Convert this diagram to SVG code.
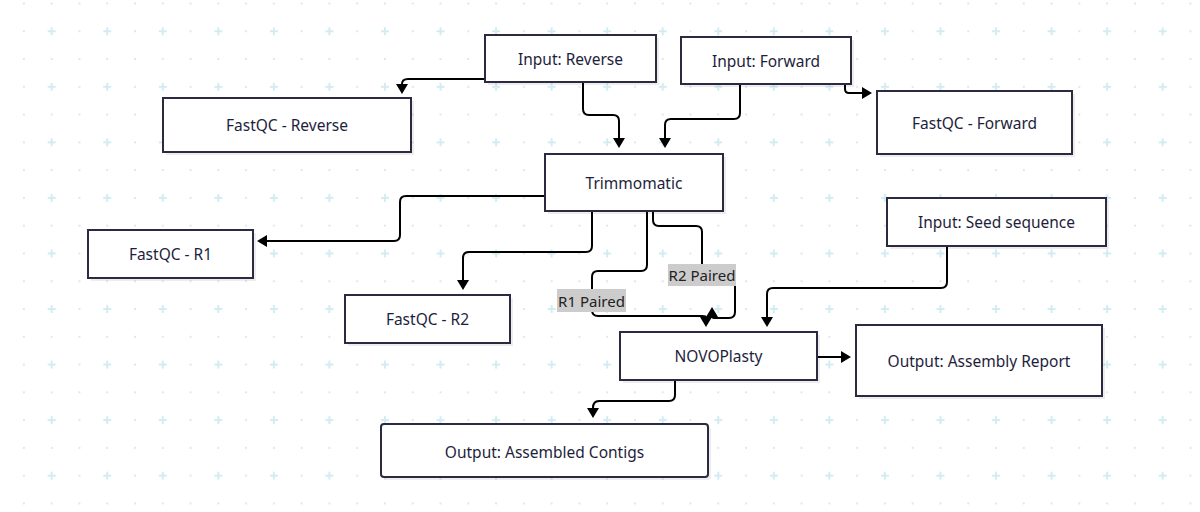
<svg xmlns="http://www.w3.org/2000/svg" width="1200" height="512" viewBox="0 0 1200 512">
<defs>
<pattern id="grid" patternUnits="userSpaceOnUse" x="10" y="-10.4" width="55.55" height="55.55">
<rect x="12.9" y="12.9" width="2" height="2" fill="#d3ecf2"/>
<rect x="40.7" y="12.9" width="2" height="2" fill="#d3ecf2"/>
<rect x="12.9" y="40.7" width="2" height="2" fill="#d3ecf2"/>
<path d="M37.7,41.7 H45.7 M41.7,37.7 V45.7" stroke="#d3ecf2" stroke-width="2"/>
</pattern>
<marker id="arr" markerUnits="userSpaceOnUse" viewBox="0 0 10 12" refX="0" refY="6" markerWidth="10" markerHeight="12" orient="auto">
<path d="M0,0 L10,6 L0,12 z" fill="#000"/>
</marker>
<style>
.box{fill:#fff;stroke:#2b2a40;stroke-width:2}
.sh{fill:#000;fill-opacity:0.07}
.t{font-family:"Noto Sans","Open Sans",sans-serif;font-size:15.5px;fill:#1e1e3c;text-anchor:middle;dominant-baseline:central}
.e{fill:none;stroke:#000;stroke-width:2;marker-end:url(#arr)}
.lb{fill:#cccccc}
.lt{font-family:"Noto Sans","Open Sans",sans-serif;font-size:15px;fill:#222;text-anchor:middle;dominant-baseline:central}
</style>
</defs>
<rect width="1200" height="512" fill="#fff"/>
<rect width="1200" height="512" fill="url(#grid)"/>

<g id="connectors">
<path class="e" d="M485,79 H408 Q402,79 402,84"/>
<path class="e" d="M583,82 V109 Q583,115 589,115 H613 Q619,115 619,121 V138"/>
<path class="e" d="M740,84 V113 Q740,119 734,119 H671 Q665,119 665,125 V138"/>
<path class="e" d="M845,84 V89 Q845,93 849,93 H862"/>
<path class="e" d="M545,196 H406 Q400,196 400,202 V235 Q400,241 394,241 H267"/>
<path class="e" d="M592,211 V246 Q592,252 586,252 H469 Q463,252 463,258 V280"/>
<path class="e" d="M647,211 V265 Q647,271 641,271 H598 Q592,271 592,277 V310 Q592,316 598,316 H702 Q706,316 706,317"/>
<path class="e" d="M653,211 V220 Q653,226 659,226 H696 Q702,226 702,232 V275 H735 V312 Q735,318 729,318 H716 Q712,318 712,317"/>
<path class="e" d="M947,246 V282 Q947,288 941,288 H773 Q767,288 767,294 V317"/>
<path class="e" d="M817,357 H841"/>
<path class="e" d="M675,381 V395 Q675,401 669,401 H599 Q593,401 593,408"/>
<g id="label-r1">
<rect class="lb" x="557" y="289" width="69" height="23"/>
<text class="lt" x="591.5" y="300.5">R1 Paired</text>
</g>
<g id="label-r2">
<rect class="lb" x="668" y="264" width="68" height="22"/>
<text class="lt" x="702" y="275">R2 Paired</text>
</g>
</g>

<g id="input-reverse">
<rect class="sh" x="488" y="38" width="171" height="47"/>
<rect class="box" x="485" y="35" width="171" height="47"/>
<text class="t" x="570.5" y="58.5">Input: Reverse</text>
</g>
<g id="input-forward">
<rect class="sh" x="684" y="40" width="170" height="47"/>
<rect class="box" x="681" y="37" width="170" height="47"/>
<text class="t" x="766" y="60.5">Input: Forward</text>
</g>
<g id="fastqc-forward">
<rect class="sh" x="880" y="94" width="195" height="63"/>
<rect class="box" x="877" y="91" width="195" height="63"/>
<text class="t" x="974.5" y="122.5">FastQC - Forward</text>
</g>
<g id="fastqc-reverse">
<rect class="sh" x="166" y="101" width="248" height="54"/>
<rect class="box" x="163" y="98" width="248" height="54"/>
<text class="t" x="287" y="125">FastQC - Reverse</text>
</g>
<g id="trimmomatic">
<rect class="sh" x="548" y="157" width="178" height="57"/>
<rect class="box" x="545" y="154" width="178" height="57"/>
<text class="t" x="634" y="182.5">Trimmomatic</text>
</g>
<g id="fastqc-r1">
<rect class="sh" x="91" y="233" width="165" height="48"/>
<rect class="box" x="88" y="230" width="165" height="48"/>
<text class="t" x="170.5" y="254">FastQC - R1</text>
</g>
<g id="fastqc-r2">
<rect class="sh" x="348" y="298" width="165" height="48"/>
<rect class="box" x="345" y="295" width="165" height="48"/>
<text class="t" x="427.5" y="319">FastQC - R2</text>
</g>
<g id="input-seed">
<rect class="sh" x="890" y="201" width="219" height="48"/>
<rect class="box" x="887" y="198" width="219" height="48"/>
<text class="t" x="996.5" y="222">Input: Seed sequence</text>
</g>
<g id="output-report">
<rect class="sh" x="859" y="328" width="246" height="71"/>
<rect class="box" x="856" y="325" width="246" height="71"/>
<text class="t" x="979" y="360.5">Output: Assembly Report</text>
</g>
<g id="novoplasty">
<rect class="sh" x="623" y="335" width="197" height="48"/>
<rect class="box" x="620" y="332" width="197" height="48"/>
<text class="t" x="718.5" y="356">NOVOPlasty</text>
</g>
<g id="output-contigs">
<rect class="sh" x="384" y="427" width="327" height="53" rx="3"/>
<rect class="box" x="381" y="424" width="327" height="53" rx="3"/>
<text class="t" x="544.5" y="451.5">Output: Assembled Contigs</text>
</g>
</svg>
